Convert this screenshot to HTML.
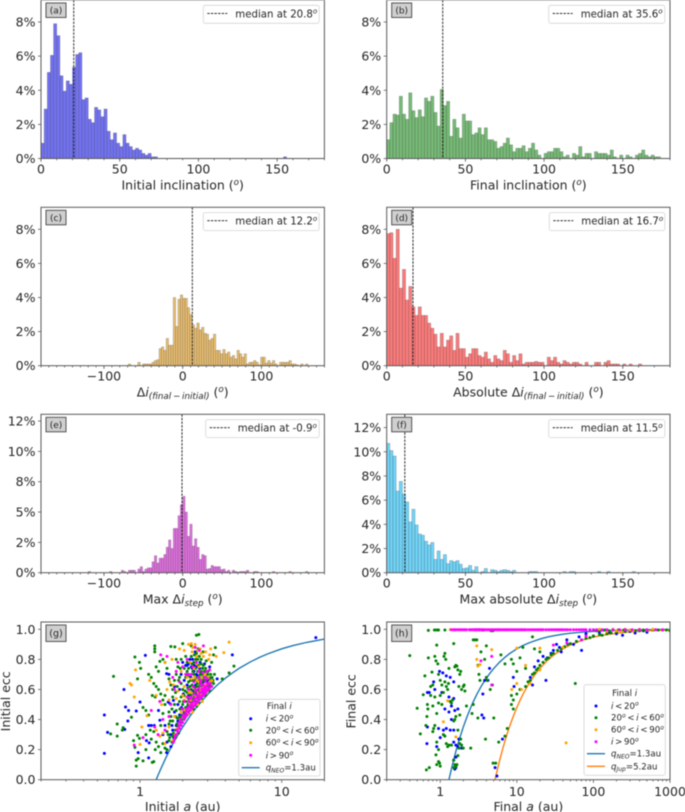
<!DOCTYPE html>
<html lang="en">
<head>
<meta charset="utf-8">
<title>Inclination and orbit distributions</title>
<style>
html,body{margin:0;padding:0;background:#fff;width:685px;height:812px;overflow:hidden}
svg{display:block;font-family:"DejaVu Sans","Liberation Sans",sans-serif;filter:blur(.4px)}
</style>
</head>
<body>
<svg id="figure" width="685" height="812" viewBox="0 0 685 812" xmlns="http://www.w3.org/2000/svg"></svg>
<script>
const histAValues=[.9,2.9,5.05,6.05,7.9,7.2,4.85,3.95,4.55,4.35,5.35,6.1,6.2,3.45,3.55,2.3,2.1,3,2.85,2.45,2.9,1.6,1.1,1.5,.9,.7,1.4,.9,.7,.5,.6,.5,.3,.2,.3,.1,.1,0,0,0,0,0,0,0,0,0,0,0,0,0,0,0,0,0,0,0,0,0,0,0,0,0,0,0,0,0,0,0,0,0,0,0,0,0,0,0,0,.1];
const histBValues=[1.1,2.1,2.6,2.55,3.65,2.6,2.3,3.85,2.8,2.4,2.85,2.45,3.55,3.35,3.65,2.7,1.9,4.05,3.1,3.35,1.3,2.3,1.8,1.2,2.6,2.2,2.2,1.4,1.5,1.8,1.4,1.8,1.1,1.1,1,.6,.7,.9,1.2,.8,.4,.6,.6,.75,.4,.6,.9,.5,.2,0,.3,.4,.4,.6,.6,.4,.1,.2,0,.3,.2,.7,.1,.3,.3,0,.4,.3,.3,.3,.2,.5,.1,0,.2,0,.2,.1,0,.2,.3,.5,.2,.1,.2,.1,.1];
const histCValues=[.1,0,0,0,.2,0,.1,.1,.1,.1,.2,.3,.35,1,1.1,.9,1.6,1.2,1.2,4,2.3,3.9,4.15,3.95,3.95,3.4,3,2.4,2.2,2.5,2.1,2.25,1.9,1.85,1.5,1.6,1.85,.9,.9,.7,.95,.7,.8,.5,.6,.4,.9,.7,.5,.7,.1,.2,.2,.3,.2,.05,.5,.5,.15,.3,.15,.3,.1,0,.2,.2,.2,.2,.3,.1,.1,.05,0,.1,0,.1];
const histDValues=[7.75,7.8,6.3,8,4.55,5.65,3.85,4.65,3.45,2.95,3.45,2.95,2.95,2.5,2.2,1.85,1.1,1.9,1.1,1.5,1.75,.9,1.9,1,1,.5,.7,1,1,.6,.5,.8,.4,.2,.6,.4,.3,.9,.7,.2,.6,.3,.7,.1,.2,.2,.2,.25,.2,.2,0,.5,.3,.5,.2,.1,.3,.2,.1,.2,.2,.1,0,.2,0,0,.2,.2,0,.2,.3,.1,.1,.1,0,.1,0,.1,0,0,.1];
const histEValues=[.1,0,0,0,0,0,0,0,0,.1,0,0,0,0,.2,.1,0,.2,.2,.2,0,.3,.5,.1,.3,.4,.4,.9,1.4,.8,1.2,1.2,1.5,2.1,2.7,2,3.65,3.65,4.7,5.6,6.3,5,3,4,2.2,2.8,2.1,1.1,1.5,1.4,.3,.35,.6,.5,.5,.5,.25,.3,.1,.2,0,.2,.1,.05,.1,.1,.1,.2,0,0,.1,.1,0,0,0,0,0,0,.1,0,0,0,0,0,0,.1,0,0,0,0,0,0,.1];
const histFValues=[10.7,10.1,9.65,6.75,7.55,6.5,5.85,4.2,5.25,3.95,3.2,3.1,2.6,2.3,2.5,1.1,1.8,1.1,1.5,.75,1,.9,1,.7,.35,.4,.6,.2,.5,0,.1,.35,0,.25,.2,.1,.2,.25,.2,.1,.2,0,0,0,0,.1,.1,.1,0,0,0,0,0,0,0,0,.1,0,.1,.1,0,0,0,0,0,0,0,.1,0,0,.1,0,0,0,0,0,0,0,.1];
const histBinStarts=[0,0,-69,0,-120,0];
const histBinWidths=[2,2,3,2,3,2];
const medianValues=[20.8,35.6,12.2,16.7,-0.9,11.5];
const medianLabels=["median at 20.8","median at 35.6","median at 12.2","median at 16.7","median at -0.9","median at 11.5"];
const positiveTicks=[0,50,100,150];
const signedTicks=[-100,0,100];
const signedTickLabels=["\u2212100","0","100"];
const pctTicks=[0,2,4,6,8];
const pctTickLabels=["0%","2%","4%","6%","8%"];
const pctTicksE=[0,2.5,5,7.5,10,12.5];
const pctTickLabelsE=["0%","2%","5%","8%","10%","12%"];
const pctTicksF=[0,2,4,6,8,10,12];
const pctTickLabelsF=["0%","2%","4%","6%","8%","10%","12%"];
const eccTicks=[0,.2,.4,.6,.8,1];
const eccTickLabels=["0.0","0.2","0.4","0.6","0.8","1.0"];
const logTicksG=[1,10];
const logTickLabelsG=["1","10"];
const logTicksH=[1,10,100,1000];
const logTickLabelsH=["1","10","100","1000"];
const neoCurveA=[1.3,1.35,1.4,1.5,1.6,1.7,1.8,2,2.25,2.5,2.75,3,3.5,4,4.5,5,6,7,8,10,12,15,20,25,30,40,50,70,100,200,500,1000];
const neoCurveE=[0,.037,.071,.133,.188,.235,.278,.35,.422,.48,.527,.567,.629,.675,.711,.74,.783,.814,.8375,.87,.892,.913,.935,.948,.957,.9675,.974,.981,.987,.9935,.9974,.9987];
const jupCurveA=[5.2,5.5,6,6.5,7,7.5,8,9,10,11,12,13.5,15,17,20,25,30,40,50,70,100,150,200,300,500,1000];
const jupCurveE=[0,.055,.133,.2,.257,.307,.35,.422,.48,.527,.567,.615,.653,.694,.74,.792,.827,.87,.896,.926,.948,.965,.974,.983,.99,.995];
const initialBlue=[[.56,.43],[.56,.175],[.59,.315],[.77,.6],[.79,.483],[.83,.46],[.82,.39],[.94,.457],[1,.517],[1.09,.827],[.78,.335],[17.4,.945],[4.48,.83],[.97,.18],[1.15,.145],[1.54,.18],[1.15,.36],[1.2,.36],[1.26,.36],[1.11,.26],[1.16,.245],[1.35,.46],[1.38,.395],[1.5,.36],[1.58,.516],[1.63,.505],[1.72,.527],[1.54,.705],[1.6,.7],[2,.78],[2.1,.76],[2.2,.77],[2.3,.75],[2.25,.8],[2.4,.72],[2.5,.7],[2.55,.69],[2.7,.68],[2.9,.7],[3.1,.75],[2.65,.78],[2.85,.77],[2.45,.85],[2.05,.66],[1.9,.6],[1.85,.5],[1.75,.45],[1.7,.33],[1.65,.3],[1.8,.36],[2.2,.56],[2.4,.62],[2.6,.6],[2.8,.65],[3,.66],[3.2,.67],[1.95,.7],[1.75,.62],[2.15,.63],[1.45,.3],[1.55,.25],[1.65,.22],[2.3,.52],[2.6,.56],[2.75,.58],[1.9,.43],[2.05,.45],[1.85,.39],[3.5,.67],[2.12,.7],[2.28,.68],[2.37,.59],[2.47,.63],[2.58,.65],[2.63,.74],[2.74,.62],[2.83,.6],[2.96,.65],[3.08,.63],[2.18,.49],[2.34,.74],[2.52,.75],[2.68,.71],[2.88,.72],[2.02,.57],[1.96,.48],[1.82,.33],[1.73,.28],[1.68,.36],[2.35,.8],[2.42,.76],[2.15,.76]];
const initialGreen=[[.65,.687],[.69,.37],[.69,.29],[.62,.305],[.75,.33],[.76,.345],[.92,.816],[.99,.78],[1.01,.74],[.96,.67],[.92,.215],[.9,.26],[.96,.295],[.99,.275],[.94,.13],[.97,.14],[.94,.09],[1.05,.125],[.87,.415],[1.27,.85],[1.27,.89],[1.27,.87],[1.38,.787],[1.65,.886],[1.76,.883],[2,.905],[2.3,.89],[2.5,.96],[2.6,.965],[3.4,.878],[3.3,.83],[4.6,.755],[4.25,.71],[3.8,.67],[1.05,.48],[1.1,.46],[1.15,.43],[1.2,.27],[1.22,.115],[1.25,.12],[1.1,.2],[1.1,.3],[1.18,.33],[1.25,.32],[1.3,.25],[1.28,.2],[1.35,.22],[1.4,.18],[1.45,.24],[1.5,.21],[1.55,.2],[1.6,.26],[1.62,.28],[1.7,.29],[1.68,.25],[1.75,.3],[1.78,.33],[1.82,.37],[1.85,.35],[1.88,.41],[1.93,.42],[1.97,.4],[2,.47],[2.05,.44],[2.1,.48],[2.12,.43],[2.18,.5],[2.22,.46],[2.25,.52],[2.3,.49],[2.35,.5],[2.4,.54],[2.45,.52],[2.5,.5],[2.55,.55],[2.6,.53],[2.65,.57],[2.7,.54],[2.8,.58],[2.9,.56],[3,.6],[3.1,.59],[3.2,.62],[3.3,.64],[1.15,.7],[1.2,.68],[1.25,.64],[1.3,.62],[1.22,.56],[1.28,.55],[1.35,.6],[1.4,.57],[1.45,.53],[1.5,.56],[1.3,.75],[1.35,.72],[1.45,.8],[1.5,.78],[1.55,.74],[1.6,.67],[1.65,.63],[1.7,.6],[1.75,.66],[1.8,.7],[1.85,.75],[1.9,.68],[1.95,.64],[2,.6],[2.05,.56],[2.1,.68],[2.15,.72],[2.2,.65],[2.25,.62],[2.3,.6],[2.35,.66],[2.4,.7],[2.45,.66],[2.5,.62],[2.55,.72],[2.6,.68],[2.65,.64],[2.7,.72],[2.75,.7],[2.8,.66],[2.9,.74],[3,.7],[3.1,.66],[2.3,.82],[2.4,.78],[2.5,.84],[2.55,.8],[2.7,.8],[2.8,.76],[2.2,.74],[2.1,.82],[1.95,.8],[1.8,.8],[1.7,.55],[1.75,.5],[1.8,.46],[1.9,.52],[1.95,.55],[2,.5],[2.15,.58],[2.2,.54],[2.3,.56],[2.4,.58],[2.5,.58],[2.6,.62],[2.75,.62],[2.9,.62],[3,.64],[3.15,.7],[1.65,.42],[1.6,.37],[1.55,.32],[1.7,.39],[1.6,.45],[1.5,.5],[1.45,.44],[1.4,.36],[1.72,.31],[1.78,.28],[1.83,.41],[1.87,.31],[1.91,.47],[1.94,.38],[1.99,.43],[2.02,.52],[2.07,.41],[2.08,.59],[2.11,.52],[2.14,.45],[2.17,.61],[2.19,.69],[2.21,.44],[2.24,.57],[2.27,.66],[2.28,.48],[2.32,.53],[2.33,.63],[2.36,.72],[2.38,.47],[2.42,.55],[2.43,.61],[2.46,.74],[2.48,.57],[2.49,.68],[2.52,.49],[2.53,.64],[2.56,.59],[2.58,.76],[2.59,.51],[2.62,.66],[2.63,.57],[2.66,.7],[2.68,.6],[2.69,.77],[2.72,.55],[2.73,.64],[2.76,.74],[2.78,.59],[2.79,.68],[2.82,.62],[2.84,.72],[2.86,.58],[2.88,.66],[2.92,.6],[2.94,.68],[2.97,.63],[3.02,.72],[3.04,.62],[3.07,.68],[3.12,.63],[3.17,.65],[3.22,.68],[3.27,.66],[3.35,.7],[2.33,.77],[2.47,.8],[2.62,.82],[2.78,.85],[2.93,.79],[3.2,.78],[2.15,.78],[2.05,.74],[1.92,.74],[1.87,.66],[1.78,.58],[1.83,.62],[1.68,.47],[1.63,.39],[1.58,.3],[1.78,.42],[2.57,.87],[2.42,.83]];
const initialOrange=[[.85,.64],[.87,.63],[.91,.55],[.93,.73],[1.03,.35],[1,.235],[1.12,.425],[1.17,.66],[1.3,.56],[1.42,.5],[1.5,.78],[1.62,.65],[1.68,.8],[1.9,.87],[2.05,.86],[2.2,.9],[2.3,.905],[2.35,.88],[2.45,.9],[2.9,.85],[3.05,.8],[3.1,.83],[3.9,.845],[4.25,.915],[3.45,.82],[1.45,.31],[1.6,.35],[1.75,.42],[1.8,.3],[1.95,.45],[2.05,.53],[2.15,.47],[2.25,.5],[2.3,.58],[2.35,.45],[2.45,.6],[2.55,.5],[2.6,.65],[2.7,.57],[2.75,.52],[2.85,.62],[2.95,.58],[3.05,.64],[3.2,.66],[1.85,.59],[1.95,.72],[2.05,.62],[2.25,.78],[2.4,.74],[2.5,.77],[2.6,.75],[2.7,.84],[2.8,.82],[2.3,.67],[2.15,.68],[2,.56],[1.8,.54],[1.72,.63],[1.55,.6],[1.3,.33],[1.38,.29],[1.5,.24],[1.7,.26],[1.6,.53],[2.08,.46],[2.18,.44],[2.28,.53],[2.38,.5],[2.48,.55],[2.58,.58],[2.68,.6],[2.78,.61],[2.92,.63],[3.12,.65],[1.92,.4],[1.84,.34],[1.77,.3],[2.12,.55],[2.22,.58],[2.42,.68],[2.52,.66],[2.72,.68],[2.88,.7],[3.02,.68],[2.33,.85],[2.55,.86],[2.65,.87],[3.15,.87],[2.5,.82]];
const initialMagenta=[[1.72,.25],[1.75,.27],[1.8,.3],[1.85,.32],[1.9,.34],[1.95,.36],[2,.38],[2.05,.4],[2.1,.42],[2.15,.43],[2.2,.45],[2.25,.46],[2.3,.47],[2.35,.48],[2.4,.49],[2.45,.5],[2.5,.51],[2.55,.52],[2.6,.53],[2.65,.54],[2.7,.55],[2.75,.56],[2.8,.56],[2.85,.57],[2.9,.58],[2.95,.59],[3,.6],[3.05,.6],[3.1,.61],[3.2,.62],[1.9,.38],[2,.42],[2.1,.45],[2.2,.48],[2.3,.5],[2.4,.52],[2.5,.54],[2.6,.56],[2.7,.58],[2.8,.59],[2.9,.6],[3,.63],[2.2,.52],[2.3,.55],[2.4,.57],[2.5,.59],[2.6,.61],[2.7,.63],[2.8,.63],[2.9,.65],[.91,.23],[1.05,.28],[1.2,.46],[1.27,.35],[1.34,.3],[1.38,.52],[1.45,.4],[1.5,.33],[1.6,.42],[1.65,.5],[1.7,.68],[1.75,.6],[1.8,.72],[1.4,.83],[1.55,.82],[1.85,.78],[1.9,.65],[2,.75],[2.1,.7],[2.2,.6],[2.3,.7],[2.4,.65],[2.45,.88],[2.5,.78],[2.6,.72],[2.7,.66],[2.8,.89],[2.95,.72],[3.1,.73],[2.15,.8],[1.76,.29],[1.82,.33],[1.88,.36],[1.93,.4],[2.03,.43],[2.13,.47],[2.23,.49],[2.33,.51],[2.43,.54],[2.53,.56],[2.63,.58],[2.73,.6],[2.83,.61],[2.93,.62],[3.03,.64],[3.13,.64],[2.27,.54],[2.47,.6],[2.67,.65],[2.87,.68],[2.06,.52],[2.16,.55],[2.37,.62],[2.57,.68],[2.77,.71],[2.98,.67],[1.98,.47],[2.2,.7],[2.35,.75],[2.62,.86]];
const finalBlue=[[.98,.72],[1.08,.71],[1.2,.69],[1.35,.68],[1.5,.65],[.82,.65],[.72,.58],[.68,.58],[.85,.6],[1.05,.58],[1.3,.55],[1.5,.54],[1.15,.47],[1.3,.45],[1.4,.49],[1.55,.46],[1.7,.47],[1.4,.4],[.68,.35],[.67,.24],[.95,.34],[1.1,.33],[1.2,.34],[1.35,.33],[1.5,.33],[.9,.22],[1,.28],[1.5,.25],[1.6,.23],[1.75,.27],[1.7,.22],[1.9,.21],[1.5,.13],[1.6,.15],[1.6,.08],[1.55,.07],[4.4,.74],[3.8,.66],[4.2,.66],[3.6,.57],[3.5,.43],[3.7,.41],[5.2,.08],[5.5,.025],[6.5,.27],[24,.66],[9,.68],[9.2,.62],[15,.68],[16,.63],[17,.75],[19,.79],[22,.82],[25,.81],[28,.84],[30,.86],[33,.9],[36,.88],[38,.85],[45,.93],[70,.86],[65,.95],[55,.9],[80,.97],[100,.955],[120,.975],[160,.98],[200,.97],[240,.96],[300,.985],[350,.975],[450,.99],[500,.98],[2.9,.997],[3.2,.997],[3.6,.995],[110,.99],[150,.995]];
const finalGreen=[[.4,.825],[.5,.475],[.55,.305],[.6,.565],[.63,.69],[.65,.36],[.68,.5],[.69,.47],[.67,.42],[.66,.065],[.72,.08],[.7,.81],[.75,.62],[.78,.715],[.8,.63],[.85,.82],[.88,.79],[.9,.895],[.93,.77],[.75,.56],[.8,.49],[.85,.55],[.9,.44],[.95,.51],[1,.56],[1.05,.5],[.8,.32],[.82,.34],[.85,.36],[.88,.165],[.95,.12],[1,.09],[.9,.1],[.98,.11],[1.1,.58],[1.12,.82],[1.15,.84],[1.18,.8],[1.2,.62],[1.25,.6],[1.28,.64],[1.3,.74],[1.35,.52],[1.4,.51],[1.45,.53],[1.5,.905],[1.55,.75],[1.6,.76],[1.65,.755],[1.7,.73],[1.75,.62],[1.8,.7],[1.85,.72],[1.9,.6],[2,.62],[2.05,.63],[2.1,.59],[1.5,.39],[1.55,.4],[1.6,.42],[1.7,.33],[1.8,.43],[1.85,.27],[1.9,.23],[2,.21],[2.5,.21],[2.2,.49],[2.6,.44],[2.7,.5],[3.1,.41],[1.2,.24],[1.25,.22],[1.3,.23],[1.4,.23],[1.5,.13],[1.55,.1],[1.6,.085],[1.5,.08],[1.65,.1],[1.7,.16],[1.1,.3],[1.15,.29],[.9,.25],[.95,.2],[1.75,.21],[1.8,.24],[.95,.7],[1,.66],[1.05,.63],[1.15,.65],[2.7,.93],[2.85,.93],[3,.93],[3.4,.85],[3.8,.8],[4,.89],[4.6,.99],[3.1,.76],[3.2,.7],[3.3,.66],[4,.68],[4.1,.66],[4.5,.6],[5,.41],[4.8,.63],[3.9,.27],[4.9,.11],[5.3,.11],[5.8,.25],[7,.29],[7.5,.34],[6.2,.83],[7,.77],[8.5,.8],[9,.77],[10,.72],[8.5,.56],[9,.53],[10,.57],[11,.6],[8.5,.5],[9,.47],[11,.81],[12,.88],[13,.74],[17,.87],[20,.85],[16,.95],[58,.64],[13,.62],[14,.65],[15,.66],[16,.7],[17,.71],[18,.73],[19,.74],[20,.76],[22,.78],[24,.8],[26,.81],[28,.83],[30,.84],[34,.86],[38,.87],[42,.885],[46,.9],[50,.905],[60,.92],[70,.93],[80,.94],[90,.945],[100,.955],[120,.965],[130,.96],[150,.97],[170,.975],[200,.98],[230,.985],[260,.985],[300,.99],[350,.99],[400,.99],[450,.995],[500,.99],[600,.995],[700,.995],[800,.995],[900,.995],[1000,.99],[.7,.993],[.84,.995],[.9,.995],[.95,.995],[1.15,.995],[4.9,.99],[100,.995],[110,.99],[120,.995],[140,.995],[160,.99],[180,.995],[210,.995],[250,.995]];
const finalOrange=[[1.25,.525],[1.1,.385],[1.6,.285],[3,.89],[3,.8],[3.1,.755],[3.3,.765],[4.7,.865],[10,.875],[20,.875],[13,.76],[8.6,.6],[44,.245],[10,.64],[11.5,.6],[15,.64],[20,.73],[40,.88],[230,.985],[300,.995],[330,.99],[400,1],[260,1],[200,.99],[500,.995],[600,1],[150,.985],[1.35,.998],[120,1],[180,1]];
const finalMagenta=[[4.7,.82],[4.7,.63],[3.4,.79],[30,.895],[45,.91],[70,.93],[80,.955]];
const finalMagentaRowA=[1.4,1.5,1.55,1.6,1.7,1.8,1.9,2,2.1,2.2,2.4,2.5,2.6,2.7,2.8,2.9,3,3.1,3.2,3.3,3.4,3.5,3.6,3.7,3.8,4,4.2,4.4,4.6,4.8,5,5.2,5.4,5.6,5.8,6,6.3,6.6,6.9,7.2,7.5,7.8,8.2,8.6,9,9.5,10,10.5,11,11.5,12,12.6,13,14,15,16,17,18,19,20,21,22,24,26,28,30,32,34,36,38,40,43,46,50,55,60,65,70,75,80,90,100,110,130,150,180,220,260,320,400,500,650,800];
const finalMagentaRowE=[.997];

const NS='http://www.w3.org/2000/svg';
const root=document.getElementById('figure');
const TEXT='#262626';
const FRAME='#5a5a5a';
const AXIS_FONT=12.5;
let clipId=0;

function make(tag,name,attrs,parent){
  const el=document.createElementNS(NS,tag);
  
  
  for(const k in attrs){el.setAttribute(k,attrs[k]);}
  parent.appendChild(el);
  return el;
}
function rich(name,segs,attrs,parent){
  const size=attrs['font-size'];
  const t=make('text',name,Object.assign({fill:TEXT},attrs),parent);
  let cur=0;
  segs.forEach(function(s){
    const kind=s[1]||'';
    const shift=kind.indexOf('sup')>=0?-size*.38:(kind.indexOf('sub')>=0?size*.2:0);
    const ts=document.createElementNS(NS,'tspan');
    ts.textContent=s[0];
    if(kind.indexOf('i')===0){ts.setAttribute('font-style','italic');}
    if(shift!==0){ts.setAttribute('font-size',size*.7);}
    if(shift!==cur){ts.setAttribute('dy',shift-cur);}
    cur=shift;
    t.appendChild(ts);
  });
  return t;
}
function frame(g,r){
  make('rect','axes-frame',{x:r.left,y:r.top,width:r.right-r.left,height:r.bottom-r.top,fill:'none',stroke:FRAME,'stroke-width':1},g);
}
function vTick(g,x,y,len,name){
  make('line',name,{x1:x,x2:x,y1:y,y2:y+len,stroke:FRAME,'stroke-width':.8},g);
}
function hTick(g,x,y,name){
  make('line',name,{x1:x-3,x2:x,y1:y,y2:y,stroke:FRAME,'stroke-width':.8},g);
}
function panelLabel(g,r,txt,h){
  make('rect','panel-label-box',{x:r.left+5,y:r.top+3,width:20,height:h,fill:'#cfcfcf',stroke:'#444','stroke-width':.9},g);
  rich('panel-label',[[txt]],{x:r.left+15,y:r.top+3+h/2+3.2,'font-size':h>15?9.5:9,'text-anchor':'middle'},g);
}

function drawHist(o){
  const g=make('g','panel-'+o.id,{},root);
  const r=o.rect;
  const xs=function(v){return r.left+(v-o.xlim[0])/(o.xlim[1]-o.xlim[0])*(r.right-r.left);};
  const ys=function(v){return r.bottom-v/o.ymax*(r.bottom-r.top);};
  const bars=make('g','histogram-bars',{},g);
  o.values.forEach(function(v,i){
    if(v<=0){return;}
    const x0=xs(o.binStart+i*o.binWidth);
    const x1=xs(o.binStart+(i+1)*o.binWidth);
    make('rect','histogram-bar',{x:x0,y:ys(v),width:x1-x0,height:r.bottom-ys(v),fill:o.color,stroke:'#333','stroke-opacity':.35,'stroke-width':.6},bars);
  });
  make('line','median-line',{x1:xs(o.median),x2:xs(o.median),y1:r.top,y2:r.bottom,stroke:'#111','stroke-width':.9,'stroke-dasharray':'2.4 1.2'},g);
  frame(g,r);
  for(let v=o.xlim[0];v<=o.xlim[1];v+=10){vTick(g,xs(v),r.bottom,1.8,'x-minor-tick');}
  o.xticks.forEach(function(v,i){
    vTick(g,xs(v),r.bottom,3.2,'x-tick');
    rich('x-tick-label',[[o.xlabels[i]]],{x:xs(v),y:r.bottom+15,'font-size':AXIS_FONT,'text-anchor':'middle'},g);
  });
  o.yticks.forEach(function(v,i){
    hTick(g,r.left,ys(v),'y-tick');
    rich('y-tick-label',[[o.ylabels[i]]],{x:r.left-5.5,y:ys(v)+4.5,'font-size':AXIS_FONT,'text-anchor':'end'},g);
  });
  rich('x-axis-title',o.title,{x:(r.left+r.right)/2+(o.titleDx||0),y:r.bottom+31,'font-size':AXIS_FONT,'text-anchor':'middle'},g);
  const lg=make('g','legend',{},g);
  make('rect','legend-box',{x:o.legendLeft,y:r.top+5.3,width:r.right-5.2-o.legendLeft,height:18,rx:2,fill:'#fff','fill-opacity':.85,stroke:'#d4d4d4','stroke-width':.8},lg);
  make('line','legend-line-sample',{x1:o.legendLeft+4,x2:o.legendLeft+24,y1:r.top+13.4,y2:r.top+13.4,stroke:'#111','stroke-width':.9,'stroke-dasharray':'2.4 1.2'},lg);
  rich('legend-label',[[o.medianLabel],['o','isup']],{x:o.legendLeft+32,y:r.top+17.4,'font-size':10.2},lg);
  panelLabel(g,r,o.label,14.5);
}

function drawScatter(o){
  const g=make('g','panel-'+o.id,{},root);
  const r=o.rect;
  const lx0=Math.log10(o.xlim[0]);
  const lx1=Math.log10(o.xlim[1]);
  const xs=function(v){return r.left+(Math.log10(v)-lx0)/(lx1-lx0)*(r.right-r.left);};
  const ys=function(v){return r.bottom-v/o.ymax*(r.bottom-r.top);};
  const id='clip'+(clipId++);
  const defs=make('defs','clip-defs',{},g);
  const cp=make('clipPath','plot-clip',{id:id},defs);
  make('rect','plot-clip-rect',{x:r.left,y:r.top,width:r.right-r.left,height:r.bottom-r.top},cp);
  const plot=make('g','plot-area',{'clip-path':'url(#'+id+')'},g);
  o.curves.forEach(function(c){
    const pts=c.a.map(function(a,i){return xs(a)+','+ys(c.e[i]);}).join(' ');
    make('polyline',c.name,{points:pts,fill:'none',stroke:c.color,'stroke-width':1.4},plot);
  });
  o.series.forEach(function(s){
    const sg=make('g',s.name+'-series',{},plot);
    s.points.forEach(function(p){
      make('circle',s.name+'-point',{cx:xs(p[0]),cy:ys(p[1]),r:1.5,fill:s.color},sg);
    });
  });
  frame(g,r);
  for(let d=Math.floor(lx0);d<lx1;d++){
    for(let m=2;m<10;m++){
      const v=m*Math.pow(10,d);
      if(v>=o.xlim[0]&&v<=o.xlim[1]){vTick(g,xs(v),r.bottom,1.8,'x-minor-tick');}
    }
  }
  o.xticks.forEach(function(v,i){
    vTick(g,xs(v),r.bottom,3.2,'x-tick');
    rich('x-tick-label',[[o.xlabels[i]]],{x:xs(v),y:r.bottom+16.5,'font-size':AXIS_FONT,'text-anchor':'middle'},g);
  });
  eccTicks.forEach(function(v,i){
    hTick(g,r.left,ys(v),'y-tick');
    rich('y-tick-label',[[eccTickLabels[i]]],{x:r.left-5.5,y:ys(v)+4.5,'font-size':AXIS_FONT,'text-anchor':'end'},g);
  });
  rich('x-axis-title',o.xtitle,{x:(r.left+r.right)/2,y:r.bottom+31.5,'font-size':AXIS_FONT,'text-anchor':'middle'},g);
  rich('y-axis-title',o.ytitle,{x:0,y:0,'font-size':AXIS_FONT,'text-anchor':'middle',transform:'translate('+(r.left-31)+' '+((r.top+r.bottom)/2+.5)+') rotate(-90)'},g);
  const lg=make('g','legend',{},g);
  const L=o.legend;
  make('rect','legend-box',{x:L.x0,y:L.y0,width:L.x1-L.x0,height:L.y1-L.y0,rx:2,fill:'#fff','fill-opacity':.85,stroke:'#d4d4d4','stroke-width':.8},lg);
  rich('legend-title',[['Final '],['i','i']],{x:(L.x0+L.x1)/2,y:L.rows[0]+3,'font-size':8.6,'text-anchor':'middle'},lg);
  L.entries.forEach(function(e,i){
    const y=L.rows[i+1];
    if(e.kind==='line'){
      make('line','legend-line-sample',{x1:L.x0+3,x2:L.x0+21,y1:y,y2:y,stroke:e.color,'stroke-width':1.4},lg);
    }else{
      make('circle','legend-marker',{cx:L.x0+12,cy:y,r:1.5,fill:e.color},lg);
    }
    rich('legend-entry',e.text,{x:L.x0+27,y:y+3,'font-size':8.6},lg);
  });
  panelLabel(g,r,o.label,16.5);
}

const colL=41,colLR=324.4,colR=386.7,colRR=670;
const rowA={top:0,bottom:158.5},rowC={top:207.3,bottom:365.7},rowE={top:414.3,bottom:572.7},rowG={top:622,bottom:779.7};
function rc(row,l,rt){return {left:l,right:rt,top:row.top,bottom:row.bottom};}
const posLabels=positiveTicks.map(String);
const deltaFinal=[['\u0394'],['i','i'],['(final\u2009\u2212\u2009initial)','isub'],[' ('],['o','isup'],[')']];
const absFinal=[['Absolute \u0394'],['i','i'],['(final\u2009\u2212\u2009initial)','isub'],[' ('],['o','isup'],[')']];
const maxStep=[['Max \u0394'],['i','i'],['step','isub'],[' ('],['o','isup'],[')']];
const maxAbsStep=[['Max absolute \u0394'],['i','i'],['step','isub'],[' ('],['o','isup'],[')']];

drawHist({id:'a',label:'(a)',rect:rc(rowA,colL,colLR),xlim:[0,180],ymax:9.29,values:histAValues,binStart:histBinStarts[0],binWidth:histBinWidths[0],color:'#7272f2',median:medianValues[0],medianLabel:medianLabels[0],xticks:positiveTicks,xlabels:posLabels,yticks:pctTicks,ylabels:pctTickLabels,title:[['Initial inclination ('],['o','isup'],[')']],legendLeft:203.3});
drawHist({id:'b',label:'(b)',rect:rc(rowA,colR,colRR),xlim:[0,180],ymax:9.29,values:histBValues,binStart:histBinStarts[1],binWidth:histBinWidths[1],color:'#76ba76',median:medianValues[1],medianLabel:medianLabels[1],xticks:positiveTicks,xlabels:posLabels,yticks:pctTicks,ylabels:pctTickLabels,title:[['Final inclination ('],['o','isup'],[')']],legendLeft:548.7});
drawHist({id:'c',label:'(c)',rect:rc(rowC,colL,colLR),xlim:[-180,180],ymax:9.29,values:histCValues,binStart:histBinStarts[2],binWidth:histBinWidths[2],color:'#e8bd70',median:medianValues[2],medianLabel:medianLabels[2],xticks:signedTicks,xlabels:signedTickLabels,yticks:pctTicks,ylabels:pctTickLabels,title:deltaFinal,legendLeft:203.3});
drawHist({id:'d',label:'(d)',rect:rc(rowC,colR,colRR),xlim:[0,180],ymax:9.29,values:histDValues,binStart:histBinStarts[3],binWidth:histBinWidths[3],color:'#fb7a7a',median:medianValues[3],medianLabel:medianLabels[3],xticks:positiveTicks,xlabels:posLabels,yticks:pctTicks,ylabels:pctTickLabels,title:absFinal,legendLeft:549.3});
drawHist({id:'e',label:'(e)',rect:rc(rowE,colL,colLR),xlim:[-180,180],ymax:13.06,values:histEValues,binStart:histBinStarts[4],binWidth:histBinWidths[4],color:'#de70de',median:medianValues[4],medianLabel:medianLabels[4],xticks:signedTicks,xlabels:signedTickLabels,yticks:pctTicksE,ylabels:pctTickLabelsE,title:maxStep,legendLeft:205.7});
drawHist({id:'f',label:'(f)',rect:rc(rowE,colR,colRR),xlim:[0,180],ymax:13.1,values:histFValues,binStart:histBinStarts[5],binWidth:histBinWidths[5],color:'#70d4f8',median:medianValues[5],medianLabel:medianLabels[5],xticks:positiveTicks,xlabels:posLabels,yticks:pctTicksF,ylabels:pctTickLabelsF,title:maxAbsStep,legendLeft:548.7});

const BLUE='#0000ff',GREEN='#008000',ORANGE='#ffa500',MAGENTA='#ff00ff',LINE1='#1f77b4',LINE2='#ff7f0e';
const lowText=[['i','i'],['\u2009<\u200920'],['o','isup']];
const midText=[['20'],['o','isup'],['\u2009<\u2009'],['i','i'],['\u2009<\u200960'],['o','isup']];
const highText=[['60'],['o','isup'],['\u2009<\u2009'],['i','i'],['\u2009<\u200990'],['o','isup']];
const retroText=[['i','i'],['\u2009>\u200990'],['o','isup']];
const neoText=[['q','i'],['NEO','isub'],['=1.3au']];
const jupText=[['q','i'],['Jup','isub'],['=5.2au']];

drawScatter({id:'g',label:'(g)',rect:rc(rowG,colL,colLR),xlim:[.2,20],ymax:1.0485,
  curves:[{name:'q-neo-curve',a:neoCurveA,e:neoCurveE,color:LINE1}],
  series:[{name:'i-under-20',points:initialBlue,color:BLUE},{name:'i-20-to-60',points:initialGreen,color:GREEN},{name:'i-60-to-90',points:initialOrange,color:ORANGE},{name:'i-over-90',points:initialMagenta,color:MAGENTA}],
  xticks:logTicksG,xlabels:logTickLabelsG,
  xtitle:[['Initial '],['a','i'],[' (au)']],ytitle:[['Initial ecc']],
  legend:{x0:238.7,x1:320,y0:699.3,y1:776,rows:[706,718.7,730.3,742.7,755.3,767.7],entries:[{text:lowText,color:BLUE},{text:midText,color:GREEN},{text:highText,color:ORANGE},{text:retroText,color:MAGENTA},{text:neoText,color:LINE1,kind:'line'}]}});

const finalMagentaAll=finalMagenta.concat(finalMagentaRowA.map(function(a){return [a,finalMagentaRowE[0]];}));
drawScatter({id:'h',label:'(h)',rect:rc(rowG,colR,colRR),xlim:[.2,1000],ymax:1.0485,
  curves:[{name:'q-neo-curve',a:neoCurveA,e:neoCurveE,color:LINE1},{name:'q-jup-curve',a:jupCurveA,e:jupCurveE,color:LINE2}],
  series:[{name:'i-under-20',points:finalBlue,color:BLUE},{name:'i-20-to-60',points:finalGreen,color:GREEN},{name:'i-60-to-90',points:finalOrange,color:ORANGE},{name:'i-over-90',points:finalMagentaAll,color:MAGENTA}],
  xticks:logTicksH,xlabels:logTickLabelsH,
  xtitle:[['Final '],['a','i'],[' (au)']],ytitle:[['Final ecc']],
  legend:{x0:584,x1:665.3,y0:684.7,y1:775.3,rows:[693,706,717.7,729.7,741.7,753.7,766.3],entries:[{text:lowText,color:BLUE},{text:midText,color:GREEN},{text:highText,color:ORANGE},{text:retroText,color:MAGENTA},{text:neoText,color:LINE1,kind:'line'},{text:jupText,color:LINE2,kind:'line'}]}});
</script>
</body>
</html>
